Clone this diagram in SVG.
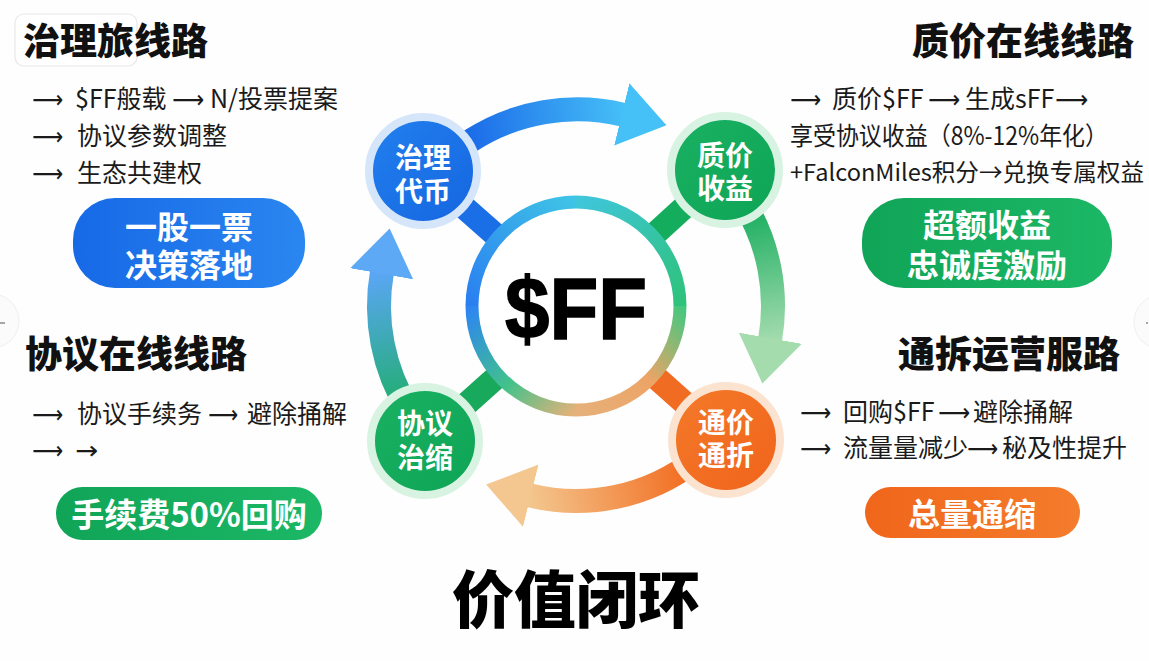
<svg xmlns="http://www.w3.org/2000/svg" width="1149" height="661" viewBox="0 0 1149 661">
<defs>
<style>
.t{font-family:"Noto Sans CJK SC","Noto Sans",sans-serif;}
.title{font-size:37px;font-weight:900;fill:#111111;}
.line{font-size:25px;font-weight:400;fill:#1a1a1a;}
.arr{font-family:"DejaVu Sans","Noto Sans",sans-serif;font-size:25px;fill:#1a1a1a;}
.btn{font-size:32px;font-weight:700;fill:#ffffff;text-anchor:middle;}
.nl{font-size:28px;font-weight:700;fill:#ffffff;text-anchor:middle;}
.spoke{stroke-width:24;fill:none;}
.arc{stroke-width:24;fill:none;}
.ring{stroke-width:13;fill:none;}
</style>
<linearGradient id="gBlueBtn" x1="0" y1="0" x2="1" y2="0"><stop offset="0" stop-color="#1769e6"/><stop offset="1" stop-color="#2a86f0"/></linearGradient>
<linearGradient id="gGreenBtn" x1="0" y1="0" x2="1" y2="0"><stop offset="0" stop-color="#10a457"/><stop offset="1" stop-color="#1cb866"/></linearGradient>
<linearGradient id="gOrangeBtn" x1="0" y1="0" x2="1" y2="0"><stop offset="0" stop-color="#f0661a"/><stop offset="1" stop-color="#f47c2c"/></linearGradient>
<linearGradient id="gBlueNode" x1="0" y1="0" x2="1" y2="1"><stop offset="0" stop-color="#2280ee"/><stop offset="1" stop-color="#1565e0"/></linearGradient>
<linearGradient id="gGreenNode" x1="0" y1="0" x2="1" y2="1"><stop offset="0" stop-color="#1bb162"/><stop offset="1" stop-color="#0ea456"/></linearGradient>
<linearGradient id="gOrangeNode" x1="0" y1="0" x2="1" y2="1"><stop offset="0" stop-color="#f47a2a"/><stop offset="1" stop-color="#f0631a"/></linearGradient>
<linearGradient id="gArcTop" gradientUnits="userSpaceOnUse" x1="470" y1="140" x2="624" y2="115"><stop offset="0" stop-color="#1c6ce8"/><stop offset="1" stop-color="#45bff7"/></linearGradient>
<linearGradient id="gArcRight" gradientUnits="userSpaceOnUse" x1="743" y1="202" x2="770" y2="340"><stop offset="0" stop-color="#13ab5c"/><stop offset="1" stop-color="#a2dbad"/></linearGradient>
<linearGradient id="gArcBottom" gradientUnits="userSpaceOnUse" x1="696" y1="460" x2="529" y2="495"><stop offset="0" stop-color="#f26719"/><stop offset="1" stop-color="#f3c68e"/></linearGradient>
<linearGradient id="gArcLeft" gradientUnits="userSpaceOnUse" x1="409" y1="410" x2="382" y2="272"><stop offset="0" stop-color="#1eae6a"/><stop offset="1" stop-color="#5aa6f5"/></linearGradient>
<linearGradient id="gQ1" gradientUnits="userSpaceOnUse" x1="472" y1="306" x2="576" y2="202"><stop offset="0" stop-color="#2a7ff0"/><stop offset="1" stop-color="#3fc4e6"/></linearGradient>
<linearGradient id="gQ2" gradientUnits="userSpaceOnUse" x1="576" y1="202" x2="680" y2="306"><stop offset="0" stop-color="#3fc6dc"/><stop offset="1" stop-color="#2ec27a"/></linearGradient>
<linearGradient id="gQ3" gradientUnits="userSpaceOnUse" x1="680" y1="306" x2="576" y2="410"><stop offset="0" stop-color="#45c77f"/><stop offset="0.5" stop-color="#eda466"/><stop offset="1" stop-color="#e6b07a"/></linearGradient>
<linearGradient id="gQ4" gradientUnits="userSpaceOnUse" x1="576" y1="410" x2="472" y2="306"><stop offset="0" stop-color="#e2b27a"/><stop offset="0.45" stop-color="#42c28a"/><stop offset="1" stop-color="#2d86f0"/></linearGradient>
<marker id="mTop" markerUnits="userSpaceOnUse" markerWidth="46" markerHeight="64" viewBox="0 0 46 64" refX="2" refY="32" orient="auto"><path d="M0,0 L46,32 L0,64 Z" fill="#46c1f7"/></marker>
<marker id="mRight" markerUnits="userSpaceOnUse" markerWidth="46" markerHeight="64" viewBox="0 0 46 64" refX="2" refY="32" orient="auto"><path d="M0,0 L46,32 L0,64 Z" fill="#a5dcae"/></marker>
<marker id="mBottom" markerUnits="userSpaceOnUse" markerWidth="46" markerHeight="64" viewBox="0 0 46 64" refX="2" refY="32" orient="auto"><path d="M0,0 L46,32 L0,64 Z" fill="#f3c78f"/></marker>
<marker id="mLeft" markerUnits="userSpaceOnUse" markerWidth="46" markerHeight="64" viewBox="0 0 46 64" refX="2" refY="32" orient="auto"><path d="M0,0 L46,32 L0,64 Z" fill="#5ea9f5"/></marker>
</defs>

<rect x="0" y="0" width="1149" height="661" fill="#fefefe"/>

<g id="edge-artifacts">
<circle cx="-8" cy="321" r="27" fill="#fbfbfb" stroke="#efefef" stroke-width="1"/>
<line x1="0" y1="323" x2="5" y2="323" stroke="#8a8a8a" stroke-width="1.5"/>
<circle cx="1161" cy="322" r="27" fill="#fbfbfb" stroke="#efefef" stroke-width="1"/>
<circle cx="1147" cy="323" r="1" fill="#8a8a8a"/>
</g>

<g id="block-governance">
<rect x="15" y="14" width="122" height="52" rx="9" fill="#ffffff" stroke="#e8e8e8" stroke-width="1.2"/>
<text class="t title" x="23" y="55">治理旅线路</text>
<text class="arr" x="32" y="108" textLength="31" lengthAdjust="spacingAndGlyphs">⟶</text>
<text class="t line" y="108"><tspan x="75">$FF般载</tspan><tspan x="210">N/投票提案</tspan></text>
<text class="arr" x="172" y="108" textLength="32" lengthAdjust="spacingAndGlyphs">⟶</text>
<text class="arr" x="32" y="145" textLength="31" lengthAdjust="spacingAndGlyphs">⟶</text>
<text class="t line" x="77" y="145">协议参数调整</text>
<text class="arr" x="32" y="182" textLength="31" lengthAdjust="spacingAndGlyphs">⟶</text>
<text class="t line" x="77" y="182">生态共建权</text>
<rect x="73" y="198" width="232" height="90" rx="42" fill="url(#gBlueBtn)"/>
<text class="t btn" x="189" y="239">一股一票<tspan x="189" dy="38">决策落地</tspan></text>
</g>

<g id="block-staking">
<text class="t title" x="912" y="55">质价在线线路</text>
<text class="arr" x="790" y="108" textLength="31" lengthAdjust="spacingAndGlyphs">⟶</text>
<text class="t line" y="108"><tspan x="832">质价$FF</tspan><tspan x="965">生成sFF</tspan></text>
<text class="arr" x="928" y="108" textLength="32" lengthAdjust="spacingAndGlyphs">⟶</text>
<text class="arr" x="1055" y="108" textLength="33" lengthAdjust="spacingAndGlyphs">⟶</text>
<text class="t line" x="790" y="145" textLength="318" lengthAdjust="spacingAndGlyphs">享受协议收益（8%-12%年化）</text>
<text class="t line" x="790" y="181" style="font-size:23.5px" textLength="354" lengthAdjust="spacingAndGlyphs">+FalconMiles积分→兑换专属权益</text>
<rect x="862" y="198" width="250" height="90" rx="42" fill="url(#gGreenBtn)"/>
<text class="t btn" x="987" y="237">超额收益<tspan x="987" dy="40">忠诚度激励</tspan></text>
</g>

<g id="block-protocol">
<text class="t title" x="25" y="368">协议在线线路</text>
<text class="arr" x="32" y="423" textLength="31" lengthAdjust="spacingAndGlyphs">⟶</text>
<text class="t line" y="423"><tspan x="77">协议手续务</tspan><tspan x="247">避除捅解</tspan></text>
<text class="arr" x="208" y="423" textLength="30" lengthAdjust="spacingAndGlyphs">⟶</text>
<text class="arr" x="32" y="459" textLength="31" lengthAdjust="spacingAndGlyphs">⟶</text>
<text class="arr" x="75" y="459" textLength="23" lengthAdjust="spacingAndGlyphs">→</text>
<rect x="56" y="487" width="266" height="53" rx="26.5" fill="url(#gGreenBtn)"/>
<text class="t btn" x="189" y="527" style="font-size:33px">手续费50%回购</text>
</g>

<g id="block-deflation">
<text class="t title" x="898" y="368">通拆运营服路</text>
<text class="arr" x="800" y="421" textLength="31" lengthAdjust="spacingAndGlyphs">⟶</text>
<text class="t line" y="421"><tspan x="843">回购$FF</tspan><tspan x="973">避除捅解</tspan></text>
<text class="arr" x="938" y="421" textLength="32" lengthAdjust="spacingAndGlyphs">⟶</text>
<text class="arr" x="800" y="457" textLength="31" lengthAdjust="spacingAndGlyphs">⟶</text>
<text class="t line" y="457"><tspan x="843">流量量减少</tspan><tspan x="1002">秘及性提升</tspan></text>
<text class="arr" x="967" y="457" textLength="31" lengthAdjust="spacingAndGlyphs">⟶</text>
<rect x="865" y="487" width="215" height="51" rx="25.5" fill="url(#gOrangeBtn)"/>
<text class="t btn" x="972" y="526">总量通缩</text>
</g>

<g id="connectors">
<line class="spoke" x1="576" y1="306" x2="423" y2="171" stroke="#1a6ee6"/>
<line class="spoke" x1="576" y1="306" x2="725" y2="170" stroke="#14ad5e"/>
<line class="spoke" x1="576" y1="306" x2="425" y2="441" stroke="#18a95c"/>
<line class="spoke" x1="576" y1="306" x2="726" y2="440" stroke="#f06c22"/>
<path class="arc" d="M470.3,140.9 A197,197 0 0 1 623.7,114.9" stroke="url(#gArcTop)" marker-end="url(#mTop)"/>
<path class="arc" d="M743.1,201.6 A197,197 0 0 1 770.0,340.2" stroke="url(#gArcRight)" marker-end="url(#mRight)"/>
<path class="arc" d="M696.1,459.7 A195,195 0 0 1 528.8,495.2" stroke="url(#gArcBottom)" marker-end="url(#mBottom)"/>
<path class="arc" d="M408.9,410.4 A197,197 0 0 1 382.0,271.8" stroke="url(#gArcLeft)" marker-end="url(#mLeft)"/>
</g>

<g id="node-ff">
<circle cx="576" cy="306" r="104" fill="#ffffff"/>
<path class="ring" d="M472,306 A104,104 0 0 1 576,202" stroke="url(#gQ1)"/>
<path class="ring" d="M576,202 A104,104 0 0 1 680,306" stroke="url(#gQ2)"/>
<path class="ring" d="M680,306 A104,104 0 0 1 576,410" stroke="url(#gQ3)"/>
<path class="ring" d="M576,410 A104,104 0 0 1 472,306" stroke="url(#gQ4)"/>
<text x="576" y="339" text-anchor="middle" font-family="Liberation Sans, Arial, sans-serif" font-weight="700" font-size="88" fill="#000000" stroke="#000000" stroke-width="1.5" textLength="142" lengthAdjust="spacingAndGlyphs">$FF</text>
</g>

<g id="node-governance-token">
<circle cx="423" cy="171" r="54" fill="url(#gBlueNode)" stroke="#d5e6fa" stroke-width="8"/>
<text class="t nl" x="423" y="168">治理<tspan x="423" dy="34">代币</tspan></text>
</g>

<g id="node-staking-yield">
<circle cx="725" cy="170" r="54" fill="url(#gGreenNode)" stroke="#d8f3e2" stroke-width="8"/>
<text class="t nl" x="725" y="166">质价<tspan x="725" dy="33">收益</tspan></text>
</g>

<g id="node-protocol-deflation">
<circle cx="425" cy="441" r="54" fill="url(#gGreenNode)" stroke="#d8f3e2" stroke-width="8"/>
<text class="t nl" x="425" y="434">协议<tspan x="425" dy="34">治缩</tspan></text>
</g>

<g id="node-deflation">
<circle cx="726" cy="440" r="54" fill="url(#gOrangeNode)" stroke="#fbe3d0" stroke-width="8"/>
<text class="t nl" x="726" y="433">通价<tspan x="726" dy="33">通折</tspan></text>
</g>

<g id="footer">
<text class="t" x="576" y="623" text-anchor="middle" font-size="62" font-weight="900" fill="#000000">价值闭环</text>
</g>
</svg>
